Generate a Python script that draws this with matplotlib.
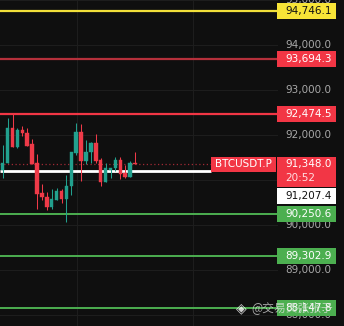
import matplotlib
matplotlib.use("Agg")
import matplotlib.pyplot as plt
from matplotlib.patches import Rectangle

# ---------------- data ----------------
opens  = [91222, 91370, 92148, 91741, 92111, 92052, 91793, 91370, 90704, 90630,
          90393, 90556, 90763, 90585, 90867, 91593, 92059, 91430, 91630, 91815,
          91444, 90963, 91222, 91259, 91444, 91148, 91059, 91370]
highs  = [91778, 92370, 92459, 92148, 92207, 92148, 91911, 91570, 90904, 90741,
          90793, 90830, 90793, 91111, 91630, 92267, 92244, 91889, 91837, 92015,
          91481, 91385, 91274, 91519, 91504, 91333, 91430, 91615]
lows   = [91037, 91370, 91741, 91704, 91978, 91763, 91348, 90348, 90556, 90333,
          90363, 90556, 90496, 90074, 90667, 91556, 90978, 91356, 91370, 91370,
          90874, 90963, 91037, 91207, 91015, 91037, 91059, 91348]
closes = [91370, 92148, 91741, 92111, 92037, 91763, 91348, 90689, 90630, 90393,
          90570, 90763, 90585, 90867, 91615, 92059, 91430, 91630, 91815, 91422,
          90963, 91259, 91259, 91444, 91133, 91059, 91370, 91348]

level_values = [94746.1, 93694.3, 92474.5, 91207.4, 90250.6, 89302.9, 88147.8]
level_labels = ["94,746.1", "93,694.3", "92,474.5", "91,207.4", "90,250.6", "89,302.9", "88,147.8"]
level_kinds  = ["yellow", "red_dark", "red", "white", "green", "green", "green"]

tick_values = [95000, 94000, 93000, 92000, 91000, 90000, 89000, 88000]
tick_labels = ["95,000.0", "94,000.0", "93,000.0", "92,000.0", "91,000.0",
               "90,000.0", "89,000.0", "88,000.0"]

symbol = "BTCUSDT.P"
last_price = 91348.0
last_label = "91,348.0"
countdown = "20:52"
watermark = "@交易员张张子"

# ---------------- style ----------------
W, H = 344, 326
BG = "#0f0f0f"
GRID = "#1d1d1d"
UP = "#22a08e"
DOWN = "#ef3a48"
styles = {
    "yellow":   dict(line="#f2e03a", box="#f7e437", text="#111111", lw=1.6),
    "red_dark": dict(line="#b5303b", box="#f23645", text="#ffffff", lw=1.6),
    "red":      dict(line="#f23645", box="#f23645", text="#ffffff", lw=1.6),
    "white":    dict(line="#ffffff", box="#ffffff", text="#111111", lw=2.0),
    "green":    dict(line="#4caf50", box="#4caf50", text="#ffffff", lw=1.4),
}

plt.rcParams['font.family'] = ['DejaVu Sans']
FS = 7.5

YMAX = 95000.0
PX = 1000.0 / 45.0          # price units per pixel
YMIN = YMAX - H * PX

def py(p):                   # pixel row -> price
    return YMAX - p * PX

fig = plt.figure(figsize=(W / 100, H / 100), dpi=100, facecolor=BG)

# background axes (grid), pixel x, price y
bg = fig.add_axes([0, 0, 1, 1])
bg.set_xlim(0, W)
bg.set_ylim(YMIN, YMAX)
bg.set_facecolor(BG)
bg.axis("off")
PLOT_R = 277
for v in tick_values:
    bg.plot([0, PLOT_R], [v, v], color=GRID, lw=0.8, zorder=1)
for xg in (77, 193):
    bg.plot([xg, xg], [YMIN, YMAX], color=GRID, lw=0.8, zorder=1)

# candle axes
X0, DX = 2.7, 4.9
ax = fig.add_axes([0, 0, PLOT_R / W, 1])
ax.set_xlim(-X0 / DX, (PLOT_R - X0) / DX)
ax.set_ylim(YMIN, YMAX)
ax.patch.set_alpha(0)
ax.axis("off")

# overlay axes (levels, labels)
ov = fig.add_axes([0, 0, 1, 1])
ov.set_xlim(0, W)
ov.set_ylim(YMIN, YMAX)
ov.patch.set_alpha(0)
ov.axis("off")

# level lines
for v, k in zip(level_values, level_kinds):
    st = styles[k]
    xe = 211 if k == "white" else PLOT_R
    bg.plot([0, xe], [v, v], color=st["line"], lw=st["lw"], zorder=3,
            solid_capstyle="butt")

# dotted last price line
bg.plot([0, 211], [last_price, last_price], color="#a12a35", lw=0.9,
        ls=(0, (1, 2)), zorder=2)

# candles
for i, (o, h, l, c) in enumerate(zip(opens, highs, lows, closes)):
    col = UP if c >= o else DOWN
    ax.vlines(i, l, h, color=col, lw=0.75, zorder=5)
    bot = min(o, c)
    ht = max(abs(c - o), 0.8 * PX)
    ax.bar(i, ht, bottom=bot, width=0.72, color=col, edgecolor=col,
           linewidth=0.3, zorder=6)

# price scale tick labels
for v, t in zip(tick_values, tick_labels):
    ov.text(331, v, t, ha="right", va="center", color="#a8a8a8", fontsize=FS,
            zorder=2)

# level label boxes
BX0, BX1 = 277, 336
BH = 16
for v, t, k in zip(level_values, level_labels, level_kinds):
    st = styles[k]
    yc = py(196) if k == "white" else v
    ov.add_patch(Rectangle((BX0, yc - BH / 2 * PX), BX1 - BX0, BH * PX,
                           facecolor=st["box"], edgecolor="none", zorder=5))
    ov.text(332, yc, t, ha="right", va="center", color=st["text"],
            fontsize=FS, zorder=6)

# current price box
ov.add_patch(Rectangle((BX0, py(187)), BX1 - BX0, 30 * PX,
                       facecolor="#f23645", edgecolor="none", zorder=5))
ov.text(332, last_price, last_label, ha="right", va="center", color="#ffffff",
        fontsize=FS, zorder=6)
ov.text(285, py(178), countdown, ha="left", va="center", color="#ffdfe2",
        fontsize=FS, zorder=6)

# symbol box
ov.add_patch(Rectangle((211, py(172)), 65, 15 * PX,
                       facecolor="#f23645", edgecolor="none", zorder=5))
ov.text(243.5, last_price, symbol, ha="center", va="center", color="#ffffff",
        fontsize=FS, zorder=6)

# watermark
ov.text(236, py(308), "◈", ha="left", va="center", color="#ffffff", alpha=0.8,
        fontsize=10, zorder=7, family=["DejaVu Sans"])
ov.text(251, py(308), watermark, ha="left", va="center", color="#e8e8e8",
        alpha=0.7, fontsize=8.5, zorder=7,
        family=["Noto Sans CJK SC", "DejaVu Sans"])

fig.savefig("out.png", dpi=100, facecolor=BG)
